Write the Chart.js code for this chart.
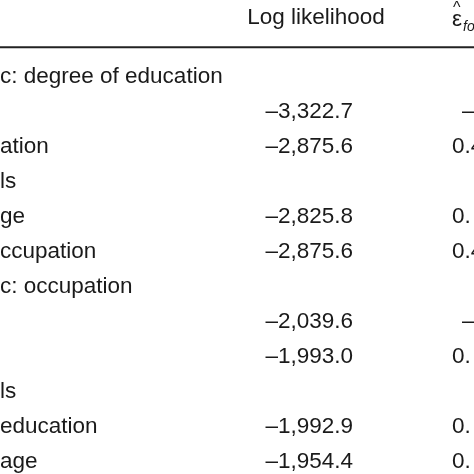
<!DOCTYPE html>
<html>
<head>
<meta charset="utf-8">
<script src="https://cdn.jsdelivr.net/npm/chart.js@4"></script>
<style>
html, body { margin: 0; padding: 0; background: #fff; }
#wrap { width: 474px; height: 474px; }
</style>
</head>
<body>
<div id="wrap"><canvas id="js--table"></canvas></div>
<script>
// rijen van de tabel (links afgesneden zoals in het origineel)
const rowLabels = [
    "c: degree of education",
    "",
    "ation",
    "ls",
    "ge",
    "ccupation",
    "c: occupation",
    "",
    "",
    "ls",
    "education",
    "age",
];
const logLik = ["", "\u20133,322.7", "\u20132,875.6", "", "\u20132,825.8", "\u20132,875.6",
    "", "\u20132,039.6", "\u20131,993.0", "", "\u20131,992.9", "\u20131,954.4"];
const epsCol = ["", "\u2013", "0.4", "", "0.", "0.4", "", "\u2013", "0.", "", "0.", "0."];

const font = "22.5px 'Liberation Sans', Arial, sans-serif";

const tablePlugin = {
    id: "tableText",
    afterDraw(chart) {
        const ctx = chart.ctx;
        const y = chart.scales.y;
        ctx.save();
        ctx.fillStyle = "#1a1a1a";
        ctx.font = font;
        ctx.textBaseline = "middle";

        // kop
        const hy = y.getPixelForValue(-1.7);
        ctx.textAlign = "center";
        ctx.fillText("Log likelihood", 316, hy);
        ctx.textAlign = "left";
        ctx.fillText("\u03b5", 452, hy + 2);
        ctx.font = "16px 'Liberation Sans', Arial, sans-serif";
        ctx.fillText("^", 453, hy - 9);
        ctx.font = "italic 14px 'Liberation Sans', Arial, sans-serif";
        ctx.fillText("fo", 463, hy + 10);
        ctx.font = font;

        // lijn onder de kop
        const ly = y.getPixelForValue(-0.85);
        ctx.strokeStyle = "#222";
        ctx.lineWidth = 2;
        ctx.beginPath();
        ctx.moveTo(0, ly);
        ctx.lineTo(474, ly);
        ctx.stroke();

        rowLabels.forEach((lab, i) => {
            const py = y.getPixelForValue(i);
            ctx.textAlign = "left";
            ctx.fillText(lab, 0, py);
            ctx.textAlign = "right";
            ctx.fillText(logLik[i], 353, py);
            ctx.textAlign = "left";
            if (epsCol[i] === "\u2013") ctx.fillText(epsCol[i], 462, py);
            else if (epsCol[i]) ctx.fillText(epsCol[i], 452, py);
        });
        ctx.restore();
    }
};

new Chart(document.getElementById("js--table"), {
    type: "scatter",
    data: { datasets: [{ data: [] }] },
    options: {
        responsive: true,
        maintainAspectRatio: false,
        animation: false,
        layout: { padding: 0 },
        plugins: { legend: { display: false }, tooltip: { enabled: false } },
        scales: {
            x: { display: false, min: 0, max: 1 },
            y: { display: false, reverse: true, min: -2.2, max: 11.35 }
        }
    },
    plugins: [tablePlugin]
});
</script>
</body>
</html>
